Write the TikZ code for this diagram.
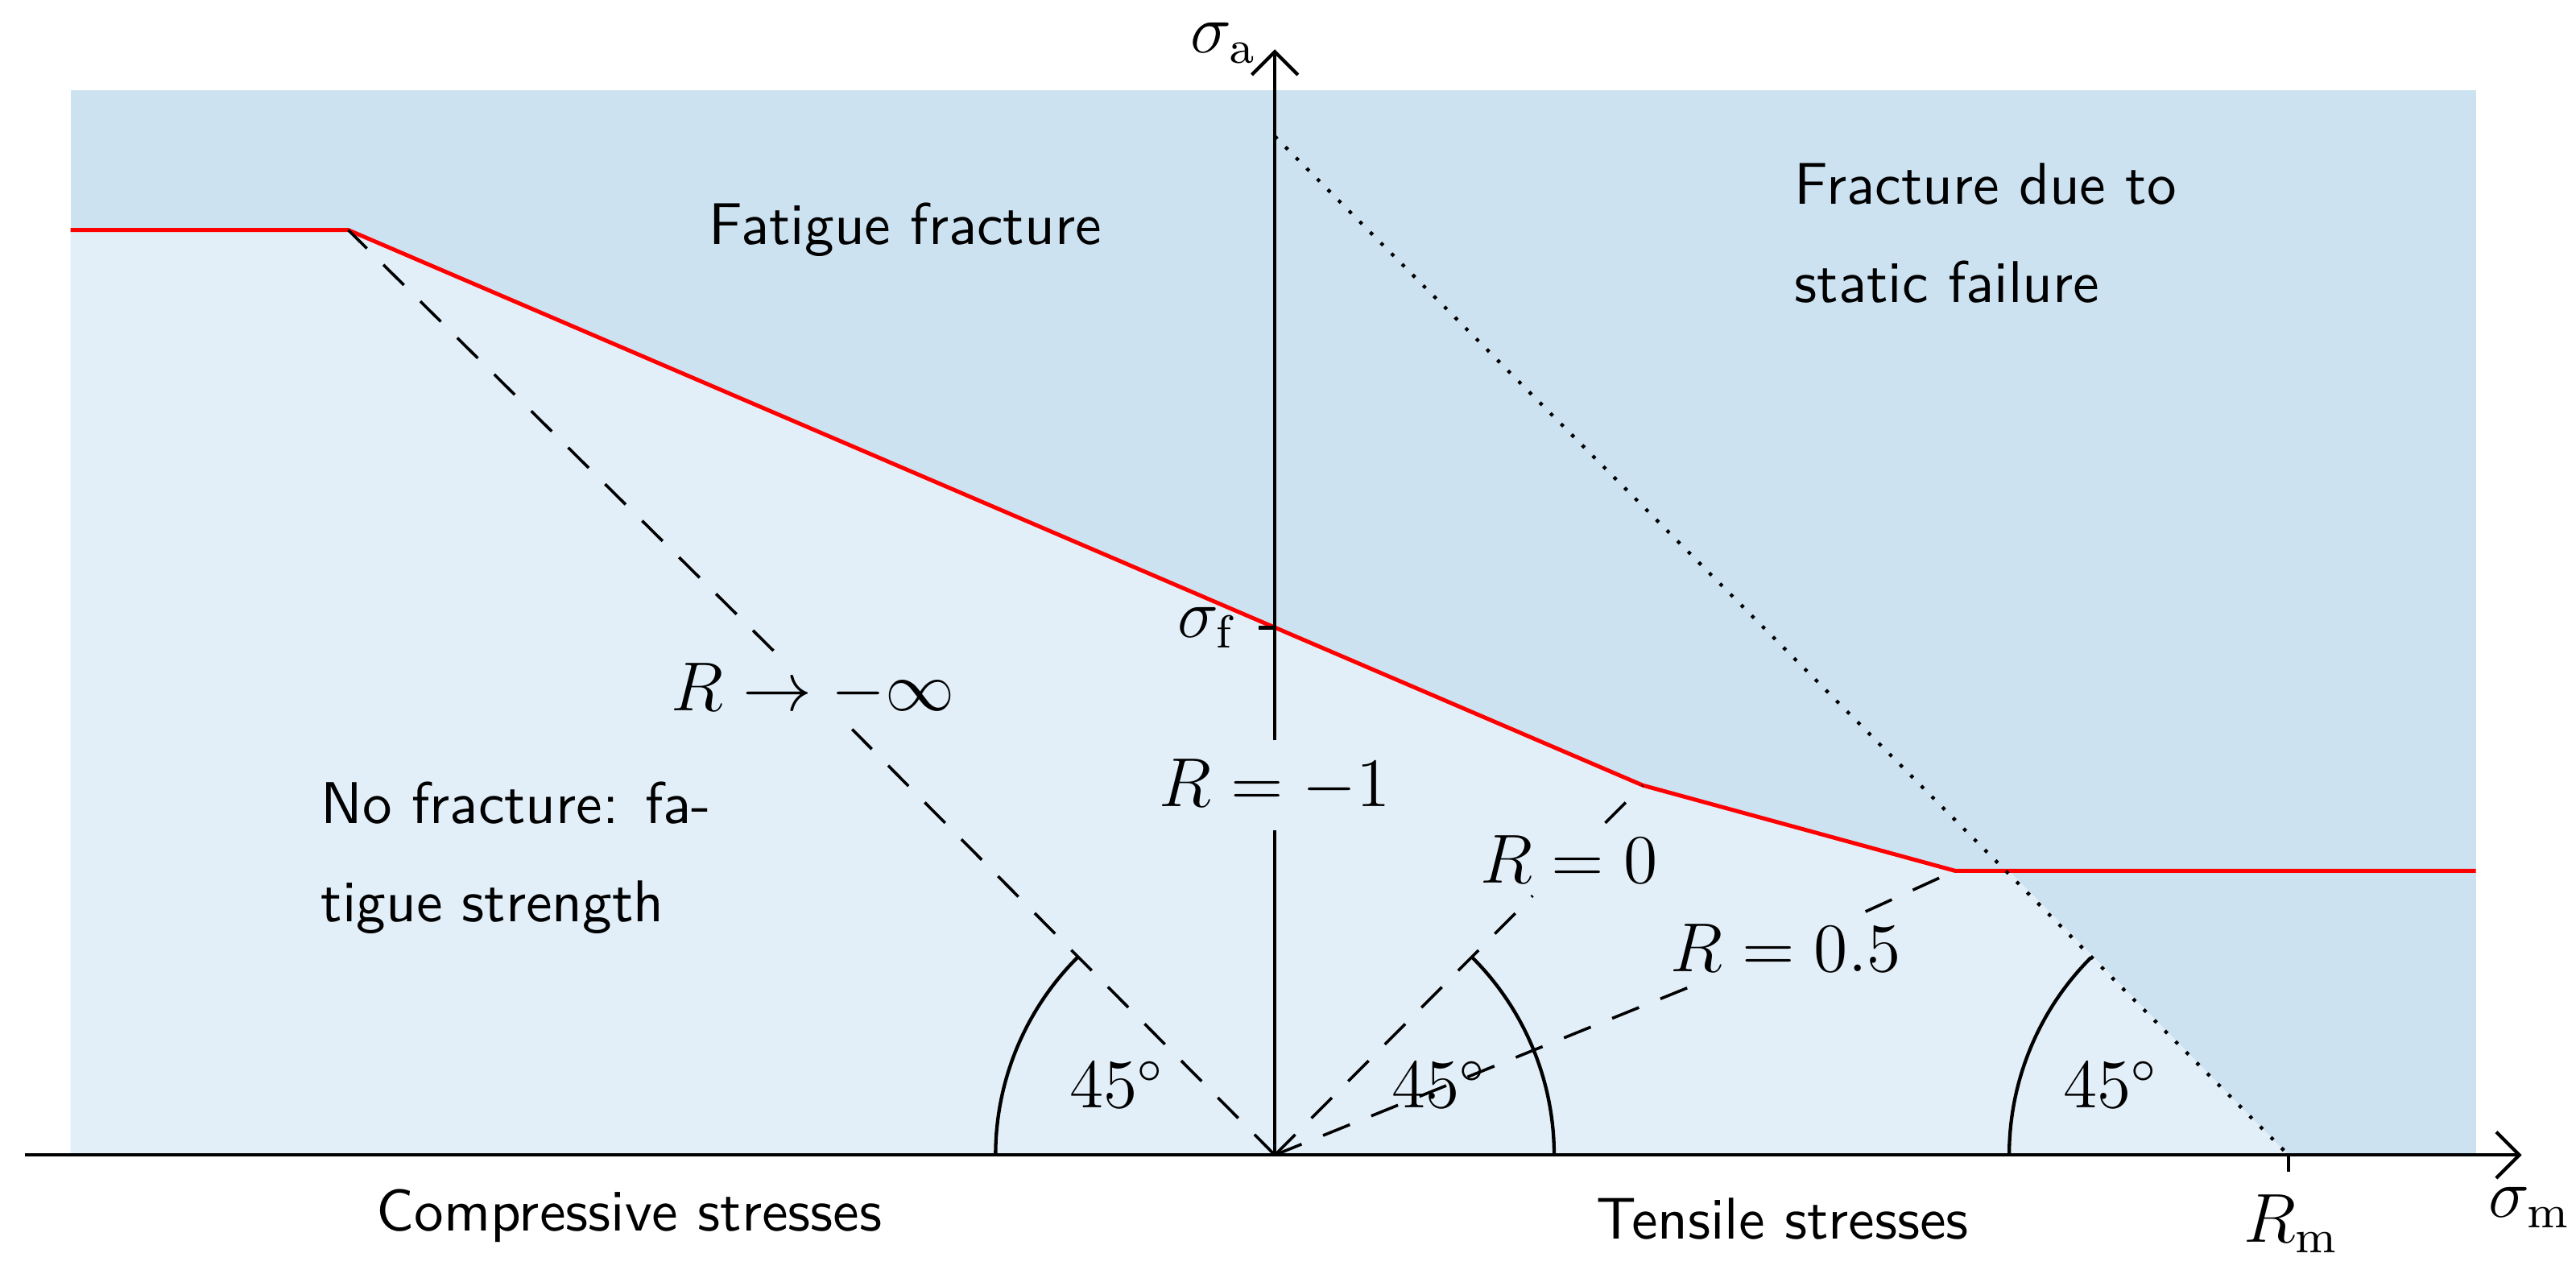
\documentclass[tikz,border=0pt]{standalone}
\usetikzlibrary{arrows.meta}
\definecolor{darkbg}{RGB}{204,226,240}
\definecolor{lightbg}{RGB}{226,239,248}
\begin{document}
\begin{tikzpicture}[x=0.01cm,y=-0.01cm,
  txt/.style={font=\sffamily\fontsize{10.2}{13}\selectfont},
  mth/.style={font=\fontsize{11.5}{14}\selectfont},
  dsh/.style={dashed,dash pattern=on 5pt off 4pt,line width=0.5pt}]
\useasboundingbox (0,0) rectangle (1568,775);
\fill[darkbg] (43,55) rectangle (1507,703);
\fill[lightbg] (43,703) -- (43,140) -- (212,140) -- (1000,478) -- (1190,530) -- (1223,530) -- (1393,703) -- cycle;
\coordinate (O) at (776,703);
\coordinate (A) at (212,140);
\coordinate (B) at (1000,478);
\coordinate (C) at (1190,530);
\coordinate (D) at (776,83);
\coordinate (Rm) at (1393,703);
\draw[red,line width=0.7pt] (43,140) -- (A) -- (B) -- (C) -- (1507,530);
\draw[dotted,line width=0.6pt] (D) -- (Rm);
\node[mth,fill=lightbg,inner sep=2pt] (lr1) at (495,420) {$R\rightarrow-\infty$};
\node[mth,fill=lightbg,inner sep=2pt] (lr2) at (955,523) {$R=0$};
\node[mth,fill=lightbg,inner sep=2pt] (lr3) at (1087,577) {$R=0.5$};
\draw[dsh] (O) -- (lr1) -- (A);
\draw[dsh] (O) -- (lr2) -- (B);
\draw[dsh] (O) -- (lr3) -- (C);
\node[mth,fill=lightbg,inner sep=3pt] (lr0) at (776,478) {$R=-1$};
\draw[-{Straight Barb[length=4pt,width=8pt]},line width=0.6pt] (15,703) -- (1535,703);
\draw[line width=0.6pt] (O) -- (lr0);
\draw[-{Straight Barb[length=4pt,width=8pt]},line width=0.6pt] (lr0) -- (776,30);
\draw[line width=0.6pt] (766,382) -- (776,382);
\draw[line width=0.6pt] (Rm) -- (1393,713);
\draw[line width=0.6pt] (606,703) arc[start angle=180,end angle=225,radius=170];
\draw[line width=0.6pt] (946,703) arc[start angle=0,end angle=-45,radius=170];
\draw[line width=0.6pt] (1223,703) arc[start angle=180,end angle=225,radius=170];
\node[mth] (a1) at (680,660) {$45^\circ$};
\node[mth] (a2) at (876,660) {$45^\circ$};
\node[mth] (a3) at (1285,660) {$45^\circ$};
\node[mth] (sa) at (745,26) {$\sigma_{\mathrm a}$};
\node[mth] (sf) at (735,382) {$\sigma_{\mathrm f}$};
\node[mth] (sm) at (1540,735) {$\sigma_{\mathrm m}$};
\node[mth] (rm) at (1395,745) {$R_{\mathrm m}$};
\node[txt] (ff) at (551,140) {Fatigue fracture};
\node[txt,anchor=west,align=left] (fs) at (1080,142) {Fracture due to\\[4pt]static failure};
\node[txt,anchor=west,align=left] (nf) at (183,522) {No fracture: fa-\\[4pt]tigue strength};
\node[txt] (cs) at (383,740) {Compressive stresses};
\node[txt] (ts) at (1085,742) {Tensile stresses};
\end{tikzpicture}
\end{document}
